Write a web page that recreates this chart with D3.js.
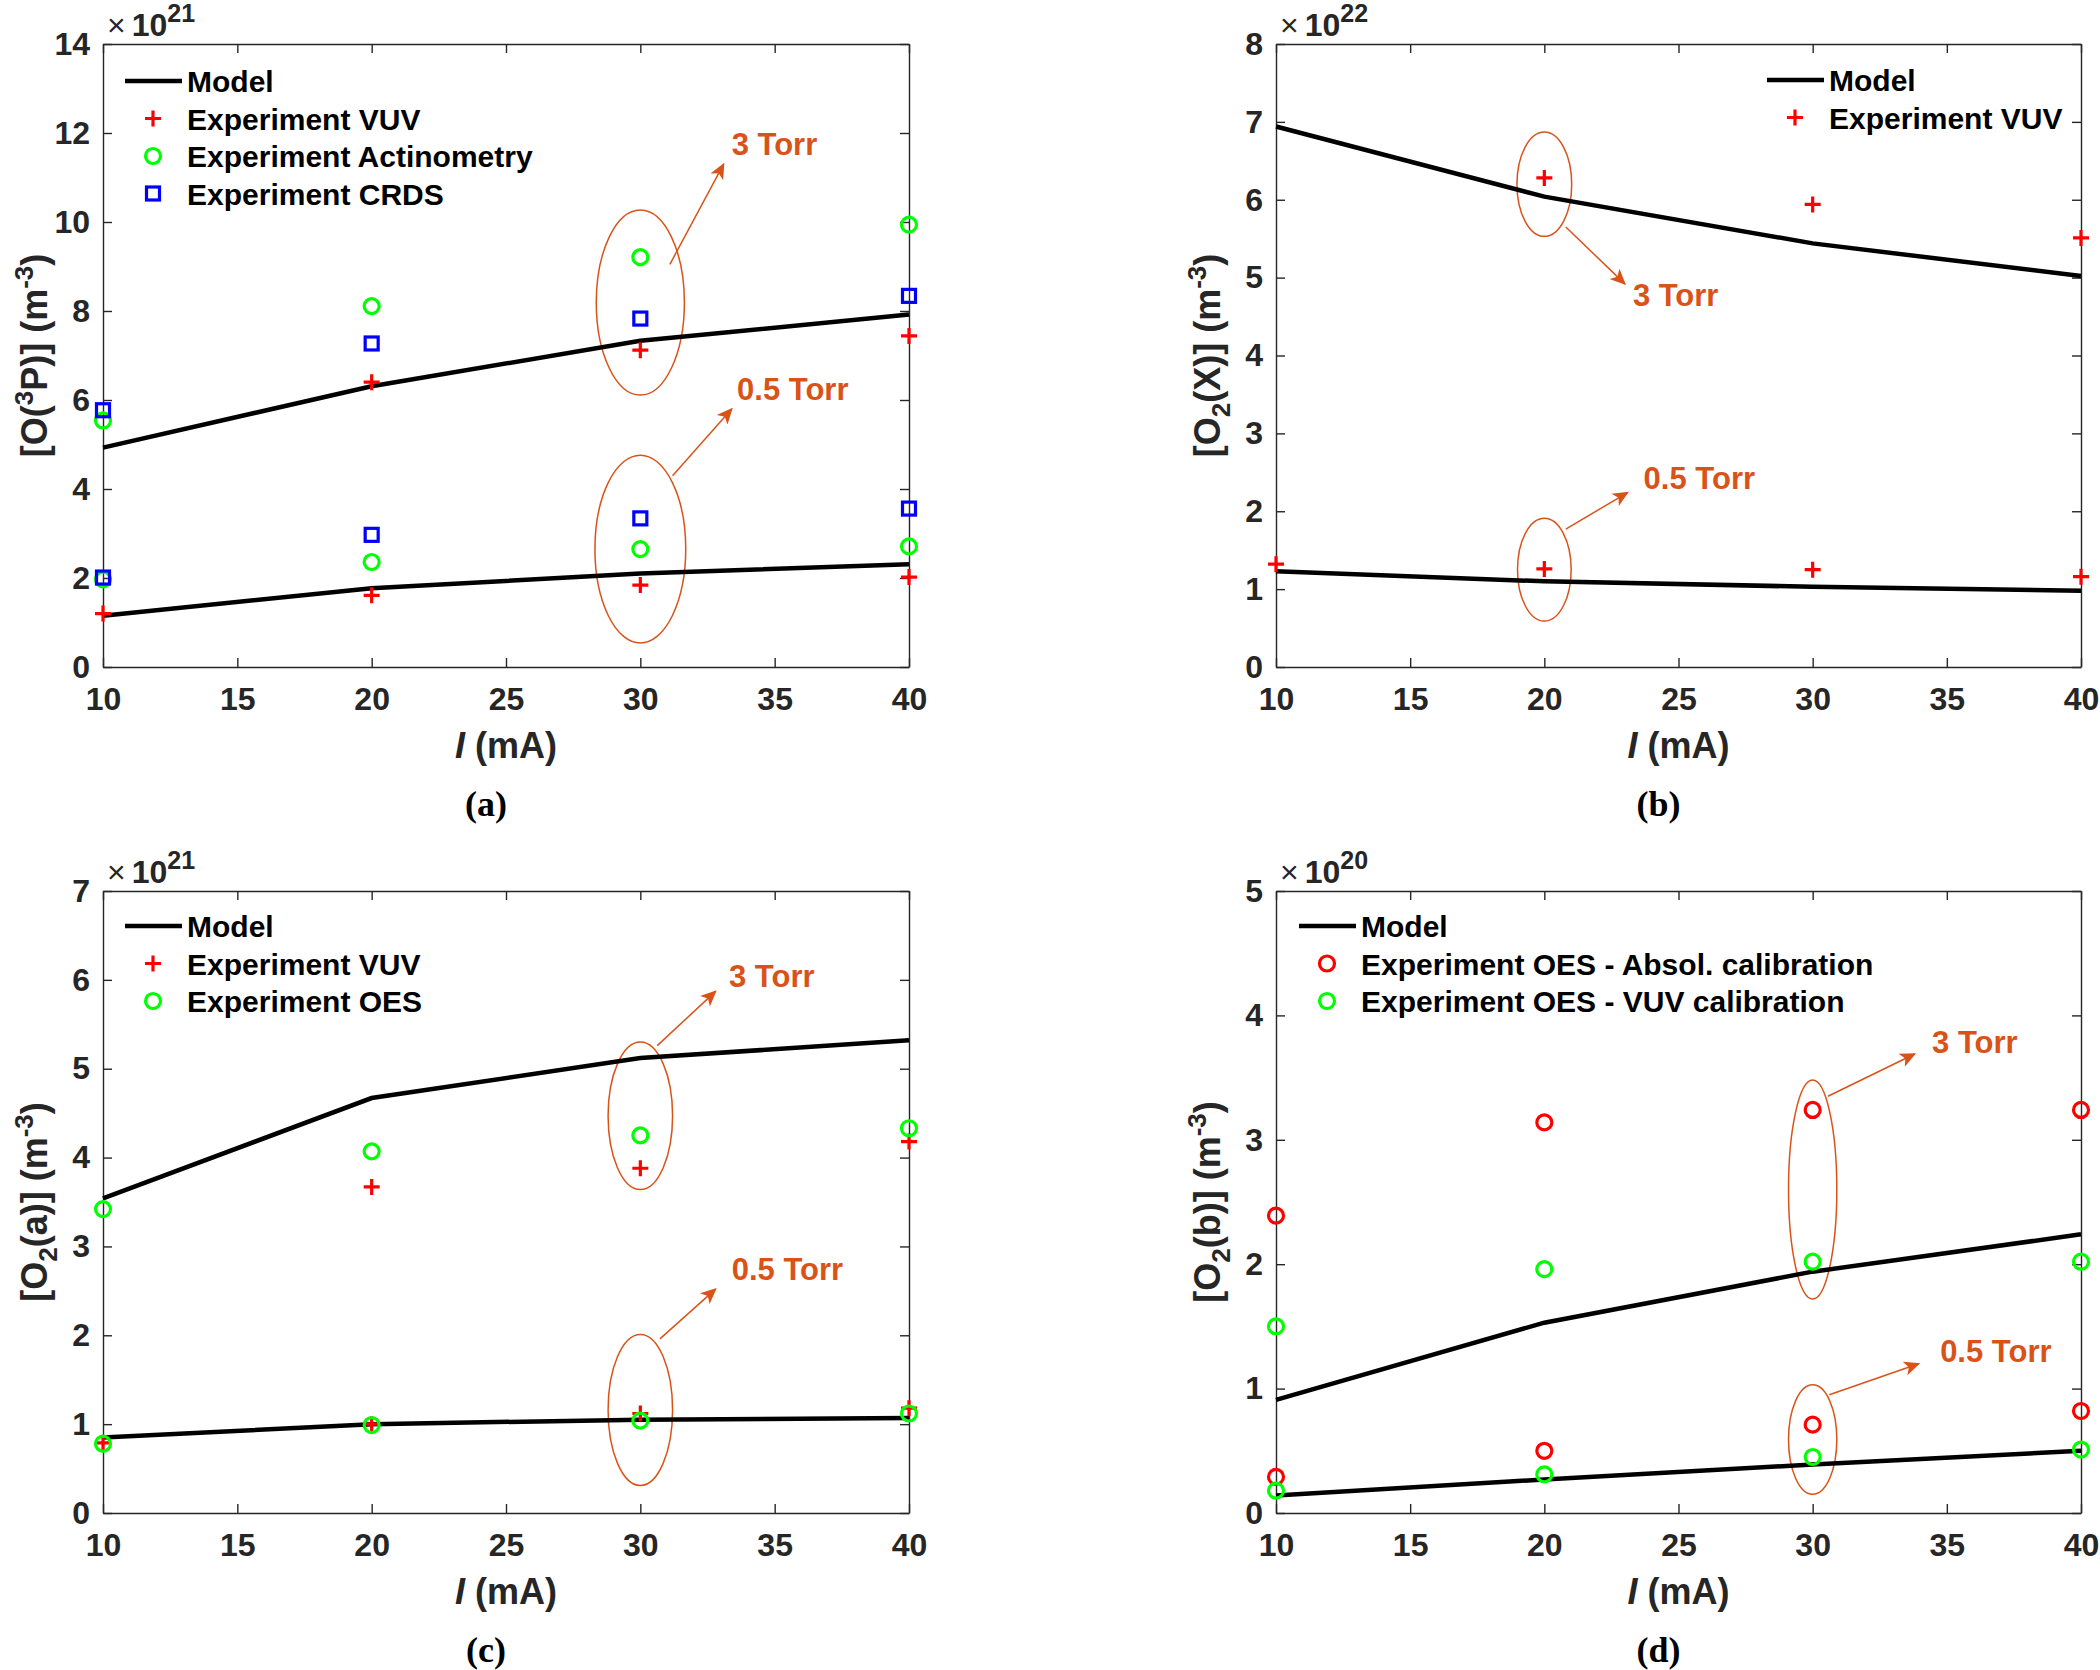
<!DOCTYPE html>
<html>
<head>
<meta charset="utf-8">
<script src="https://d3js.org/d3.v7.min.js"></script>
<style>
  body { margin: 0; background: #fff; }
  svg { display: block; }
  .tick-label { font-family: "Liberation Sans", Arial, sans-serif; font-weight: bold; font-size: 32px; fill: #262626; }
  .axis-title { font-family: "Liberation Sans", Arial, sans-serif; font-weight: bold; font-size: 36px; fill: #262626; }
  .legend-text { font-family: "Liberation Sans", Arial, sans-serif; font-weight: bold; font-size: 30px; fill: #000; }
  .exp-text { font-family: "Liberation Sans", Arial, sans-serif; font-weight: bold; font-size: 32px; fill: #262626; }
  .note { font-family: "Liberation Sans", Arial, sans-serif; font-weight: bold; font-size: 31px; fill: #D95319; }
  .caption { font-family: "Liberation Serif", "DejaVu Serif", serif; font-weight: bold; font-size: 36px; fill: #000; }
</style>
</head>
<body>
<div id="chart"></div>
<script>
// currents (mA)
const currents = [10, 20, 30, 40];
const xTicks = [10, 15, 20, 25, 30, 35, 40];

// (a) [O(3P)]  x1e21
const aModel3 = [4.93, 6.31, 7.33, 7.92];
const aVUV3 = [null, 6.40, 7.12, 7.44];
const aAct3 = [5.54, 8.11, 9.21, 9.94];
const aCRDS3 = [5.77, 7.27, 7.83, 8.34];
const aModel05 = [1.15, 1.77, 2.10, 2.31];
const aVUV05 = [1.20, 1.61, 1.84, 2.02];
const aAct05 = [1.97, 2.36, 2.65, 2.71];
const aCRDS05 = [2.01, 2.97, 3.34, 3.56];
const aTicks = [0, 2, 4, 6, 8, 10, 12, 14];

// (b) [O2(X)]  x1e22
const bModel3 = [6.94, 6.04, 5.44, 5.02];
const bVUV3 = [null, 6.28, 5.94, 5.51];
const bModel05 = [1.23, 1.10, 1.03, 0.98];
const bVUV05 = [1.32, 1.26, 1.25, 1.16];
const bTicks = [0, 1, 2, 3, 4, 5, 6, 7, 8];

// (c) [O2(a)]  x1e21
const cModel3 = [3.54, 4.67, 5.12, 5.32];
const cVUV3 = [null, 3.67, 3.88, 4.18];
const cOES3 = [3.42, 4.07, 4.25, 4.33];
const cModel05 = [0.85, 1.00, 1.05, 1.07];
const cVUV05 = [0.79, 1.00, 1.12, 1.18];
const cOES05 = [0.78, 0.99, 1.04, 1.12];
const cTicks = [0, 1, 2, 3, 4, 5, 6, 7];

// (d) [O2(b)]  x1e20
const dModel3 = [0.91, 1.53, 1.94, 2.24];
const dAbs3 = [2.39, 3.14, 3.24, 3.24];
const dVUVcal3 = [1.50, 1.96, 2.02, 2.02];
const dModel05 = [0.14, 0.27, 0.39, 0.50];
const dAbs05 = [0.29, 0.50, 0.71, 0.82];
const dVUVcal05 = [0.18, 0.31, 0.45, 0.51];
const dTicks = [0, 1, 2, 3, 4, 5];

const RED = "#ff0000", GREEN = "#00ff00", BLUE = "#0000ff", ORANGE = "#D95319";

const panels = [
  {
    box: [103, 44, 909, 667], ymax: 14, yTicks: aTicks, exp: "21", cap: "(a)",
    ylabel: [["[O(", 0], ["3", 1], ["P)] (m", 0], ["-3", 1], [")", 0]],
    models: [aModel3, aModel05],
    series: [
      { name: "Experiment VUV", shape: "plus", color: RED, vals: [aVUV3, aVUV05] },
      { name: "Experiment Actinometry", shape: "circle", color: GREEN, vals: [aAct3, aAct05] },
      { name: "Experiment CRDS", shape: "square", color: BLUE, vals: [aCRDS3, aCRDS05] }
    ],
    legend: { x: 125, y: 81 },
    notes: [
      { label: "3 Torr", cx: 30, cy: 8.19, rx: 1.64, ry: 2.08, x1: 31.1, y1: 9.05, x2: 33.1, y2: 11.3, tx: 33.4, ty: 11.5 },
      { label: "0.5 Torr", cx: 30, cy: 2.65, rx: 1.69, ry: 2.11, x1: 31.2, y1: 4.3, x2: 33.4, y2: 5.8, tx: 33.6, ty: 5.99 }
    ]
  },
  {
    box: [1276, 44, 2081, 667], ymax: 8, yTicks: bTicks, exp: "22", cap: "(b)",
    ylabel: [["[O", 0], ["2", -1], ["(X)] (m", 0], ["-3", 1], [")", 0]],
    models: [bModel3, bModel05],
    series: [
      { name: "Experiment VUV", shape: "plus", color: RED, vals: [bVUV3, bVUV05] }
    ],
    legend: { x: 1767, y: 80 },
    notes: [
      { label: "3 Torr", cx: 20, cy: 6.2, rx: 1.02, ry: 0.67, x1: 20.8, y1: 5.65, x2: 23.0, y2: 4.92, tx: 23.3, ty: 4.64 },
      { label: "0.5 Torr", cx: 20, cy: 1.25, rx: 1.0, ry: 0.66, x1: 20.8, y1: 1.77, x2: 23.1, y2: 2.24, tx: 23.7, ty: 2.29 }
    ]
  },
  {
    box: [103, 891, 909, 1513], ymax: 7, yTicks: cTicks, exp: "21", cap: "(c)",
    ylabel: [["[O", 0], ["2", -1], ["(a)] (m", 0], ["-3", 1], [")", 0]],
    models: [cModel3, cModel05],
    series: [
      { name: "Experiment VUV", shape: "plus", color: RED, vals: [cVUV3, cVUV05] },
      { name: "Experiment OES", shape: "circle", color: GREEN, vals: [cOES3, cOES05] }
    ],
    legend: { x: 125, y: 926 },
    notes: [
      { label: "3 Torr", cx: 30, cy: 4.47, rx: 1.2, ry: 0.83, x1: 30.63, y1: 5.26, x2: 32.8, y2: 5.87, tx: 33.3, ty: 5.92 },
      { label: "0.5 Torr", cx: 30, cy: 1.16, rx: 1.2, ry: 0.85, x1: 30.73, y1: 1.96, x2: 32.8, y2: 2.52, tx: 33.4, ty: 2.62 }
    ]
  },
  {
    box: [1276, 891, 2081, 1513], ymax: 5, yTicks: dTicks, exp: "20", cap: "(d)",
    ylabel: [["[O", 0], ["2", -1], ["(b)] (m", 0], ["-3", 1], [")", 0]],
    models: [dModel3, dModel05],
    series: [
      { name: "Experiment OES - Absol. calibration", shape: "circle", color: RED, vals: [dAbs3, dAbs05] },
      { name: "Experiment OES - VUV calibration", shape: "circle", color: GREEN, vals: [dVUVcal3, dVUVcal05] }
    ],
    legend: { x: 1299, y: 926 },
    notes: [
      { label: "3 Torr", cx: 30, cy: 2.6, rx: 0.9, ry: 0.88, x1: 30.57, y1: 3.35, x2: 33.8, y2: 3.69, tx: 34.45, ty: 3.70 },
      { label: "0.5 Torr", cx: 30, cy: 0.59, rx: 0.9, ry: 0.44, x1: 30.62, y1: 0.95, x2: 33.95, y2: 1.2, tx: 34.75, ty: 1.21 }
    ]
  }
];

const svg = d3.select("#chart").append("svg")
  .attr("width", 2100).attr("height", 1670);

svg.append("defs").append("marker")
  .attr("id", "arrow")
  .attr("viewBox", "0 0 10 10")
  .attr("refX", 9).attr("refY", 5)
  .attr("markerWidth", 16).attr("markerHeight", 16)
  .attr("markerUnits", "userSpaceOnUse")
  .attr("orient", "auto")
  .append("path")
  .attr("d", "M0,0.5 L10,5 L0,9.5 L2.5,5 Z")
  .attr("fill", ORANGE);

function drawMarker(g, shape, color, x, y) {
  if (shape === "plus") {
    g.append("path")
      .attr("d", `M${x - 8},${y}H${x + 8}M${x},${y - 8}V${y + 8}`)
      .attr("stroke", color).attr("stroke-width", 3.2).attr("fill", "none");
  } else if (shape === "circle") {
    g.append("circle").attr("cx", x).attr("cy", y).attr("r", 7.5)
      .attr("stroke", color).attr("stroke-width", 3.2).attr("fill", "none");
  } else {
    g.append("rect").attr("x", x - 6.5).attr("y", y - 6.5).attr("width", 13).attr("height", 13)
      .attr("stroke", color).attr("stroke-width", 3.2).attr("fill", "none");
  }
}

panels.forEach(p => {
  const [x0, y0, x1, y1] = p.box;
  const x = d3.scaleLinear().domain([10, 40]).range([x0, x1]);
  const y = d3.scaleLinear().domain([0, p.ymax]).range([y1, y0]);
  const g = svg.append("g");

  // box + inward ticks
  g.append("g").attr("transform", `translate(0,${y1})`)
    .call(d3.axisBottom(x).tickValues(xTicks).tickSizeInner(-9).tickSizeOuter(0).tickPadding(20))
    .call(a => a.selectAll("text").attr("class", "tick-label"));
  g.append("g").attr("transform", `translate(0,${y0})`)
    .call(d3.axisTop(x).tickValues(xTicks).tickSizeInner(-9).tickSizeOuter(0).tickFormat(""));
  g.append("g").attr("transform", `translate(${x0},0)`)
    .call(d3.axisLeft(y).tickValues(p.yTicks).tickFormat(d3.format("d"))
      .tickSizeInner(-9).tickSizeOuter(0).tickPadding(13))
    .call(a => a.selectAll("text").attr("class", "tick-label"));
  g.append("g").attr("transform", `translate(${x1},0)`)
    .call(d3.axisRight(y).tickValues(p.yTicks).tickSizeInner(-9).tickSizeOuter(0).tickFormat(""));
  g.selectAll(".domain, .tick line").attr("stroke", "#262626").attr("stroke-width", 1.4);
  g.selectAll("text").attr("font-size", null).attr("font-family", null).attr("fill", null);

  // exponent
  const ex = g.append("text").attr("class", "exp-text").attr("x", x0 + 4).attr("y", y0 - 8);
  ex.append("tspan").attr("font-weight", "normal").text("\u00d7");
  ex.append("tspan").attr("dx", 6).text("10");
  ex.append("tspan").attr("dy", -14).attr("font-size", 25).text(p.exp);

  // ellipses and arrows
  p.notes.forEach(n => {
    g.append("ellipse")
      .attr("cx", x(n.cx)).attr("cy", y(n.cy))
      .attr("rx", x(n.cx + n.rx) - x(n.cx)).attr("ry", y(n.cy) - y(n.cy + n.ry))
      .attr("fill", "none").attr("stroke", ORANGE).attr("stroke-width", 1.5);
    g.append("line")
      .attr("x1", x(n.x1)).attr("y1", y(n.y1)).attr("x2", x(n.x2)).attr("y2", y(n.y2))
      .attr("stroke", ORANGE).attr("stroke-width", 1.5).attr("marker-end", "url(#arrow)");
    g.append("text").attr("class", "note").attr("x", x(n.tx)).attr("y", y(n.ty)).text(n.label);
  });

  // model lines
  const line = d3.line().x((d, i) => x(currents[i])).y(d => y(d));
  p.models.forEach(m => {
    g.append("path").datum(m).attr("d", line)
      .attr("fill", "none").attr("stroke", "#000").attr("stroke-width", 4.5);
  });

  // experimental points
  p.series.forEach(s => {
    s.vals.forEach(v => {
      v.forEach((d, i) => { if (d !== null) drawMarker(g, s.shape, s.color, x(currents[i]), y(d)); });
    });
  });

  // legend
  const L = p.legend, rowH = 37.5;
  g.append("line").attr("x1", L.x).attr("x2", L.x + 57).attr("y1", L.y).attr("y2", L.y)
    .attr("stroke", "#000").attr("stroke-width", 4.5);
  g.append("text").attr("class", "legend-text").attr("x", L.x + 62).attr("y", L.y + 11).text("Model");
  p.series.forEach((s, i) => {
    const ry = L.y + rowH * (i + 1);
    drawMarker(g, s.shape, s.color, L.x + 28, ry);
    g.append("text").attr("class", "legend-text").attr("x", L.x + 62).attr("y", ry + 11).text(s.name);
  });

  // axis titles
  const xt = g.append("text").attr("class", "axis-title")
    .attr("x", (x0 + x1) / 2).attr("y", y1 + 91).attr("text-anchor", "middle");
  xt.append("tspan").attr("font-style", "italic").text("I");
  xt.append("tspan").text(" (mA)");

  const yt = g.append("text").attr("class", "axis-title")
    .attr("transform", `translate(${x0 - 56},${(y0 + y1) / 2}) rotate(-90)`)
    .attr("text-anchor", "middle");
  let cur = 0;
  p.ylabel.forEach(([t, s]) => {
    const target = s === 1 ? -14 : s === -1 ? 10 : 0;
    const ts = yt.append("tspan").attr("dy", target - cur).text(t);
    if (s !== 0) ts.attr("font-size", 26);
    cur = target;
  });

  // caption
  g.append("text").attr("class", "caption")
    .attr("x", (x0 + x1) / 2 - 20).attr("y", y1 + 149).attr("text-anchor", "middle").text(p.cap);
});
</script>
</body>
</html>
